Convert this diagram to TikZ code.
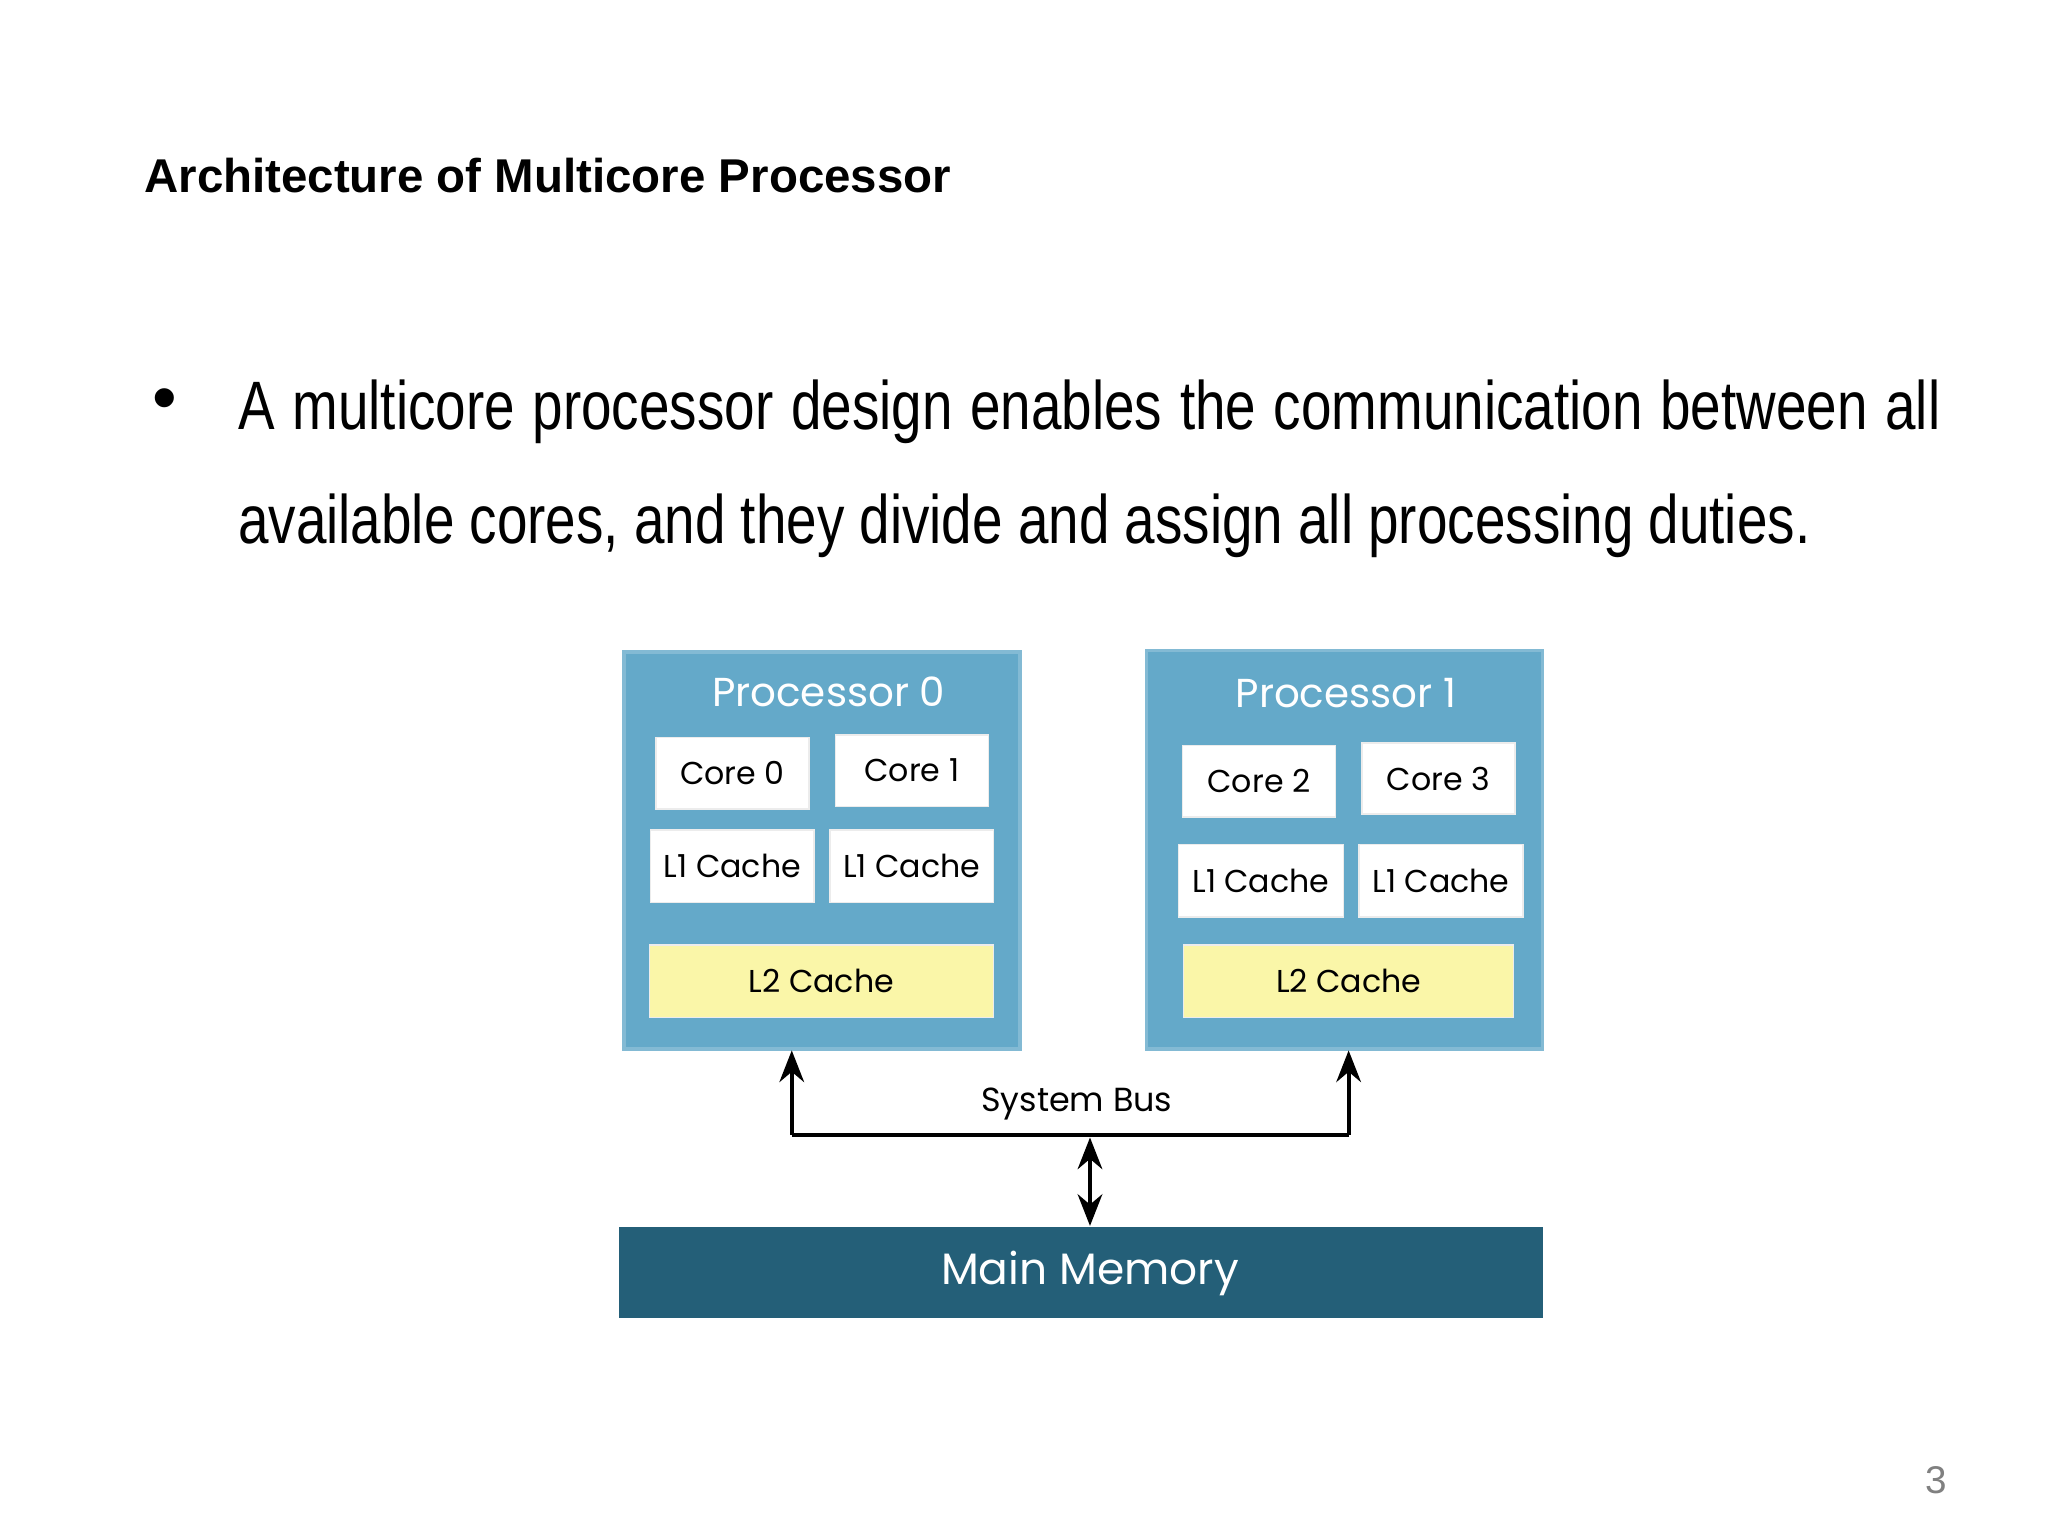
\documentclass[tikz,border=0pt]{standalone}
\usepackage{fontspec}
\setmainfont{Liberation Sans}
\newfontfamily\narrowfont{Liberation Sans}[FakeStretch=0.8]
\newfontfamily\diagfont{Poppins}
\usetikzlibrary{positioning,arrows.meta}
\definecolor{procblue}{RGB}{100,169,201}
\definecolor{cacheyellow}{RGB}{250,246,168}
\definecolor{memblue}{RGB}{36,95,120}
\tikzset{
  arrow/.style={-{Stealth[length=9pt,width=7pt]}, line width=1.2pt},
  dblarrow/.style={{Stealth[length=9pt,width=7pt]}-{Stealth[length=9pt,width=7pt]}, line width=1.2pt},
  proc/.style={draw=procblue!80!white, fill=procblue, line width=1pt},
  unit/.style={draw=white!85!gray, fill=white, font=\diagfont\fontsize{9}{11}\selectfont},
  ltwo/.style={draw=white!85!gray, fill=cacheyellow, font=\diagfont\fontsize{9}{11}\selectfont},
  ptitle/.style={text=white, font=\diagfont\fontsize{11.5}{14}\selectfont}
}
\begin{document}
\begin{tikzpicture}[x=0.0132cm,y=-0.0132cm]
\useasboundingbox (0,0) rectangle (1552,1164);

% Heading and text
\node[anchor=west, font=\bfseries\fontsize{13.5}{16}\selectfont] (title) at (100,133) {Architecture of Multicore Processor};
\node[font=\fontsize{20}{24}\selectfont] (bullet) at (125,307) {\textbullet};
\node[anchor=north west, inner sep=0pt, text width=1290*0.0132cm, align=justify,
  font=\narrowfont\fontsize{19.5}{32.5}\selectfont] (body) at (180,287)
  {\hyphenpenalty=10000 A multicore processor design enables the communication between all\linebreak available cores, and they divide and assign all processing duties.};

% Processor 0
\filldraw[proc] (473,494) rectangle (773,795);
\node[ptitle] (p0) at (628,524) {Processor 0};
\draw[unit] (497,559) rectangle node (c0) {Core 0} (613,613);
\draw[unit] (633,557) rectangle node (c1) {Core 1} (749,611);
\draw[unit] (493,629) rectangle node (l10) {L1 Cache} (617,684);
\draw[unit] (629,629) rectangle node (l11) {L1 Cache} (753,684);
\draw[ltwo] (492,716) rectangle node (l20) {L2 Cache} (753,771);

% Processor 1
\filldraw[proc] (869,493) rectangle (1169,795);
\node[ptitle] (p1) at (1020,525) {Processor 1};
\draw[unit] (896,565) rectangle node (c2) {Core 2} (1012,619);
\draw[unit] (1032,563) rectangle node (c3) {Core 3} (1148,617);
\draw[unit] (893,640) rectangle node (l12) {L1 Cache} (1018,695);
\draw[unit] (1030,640) rectangle node (l13) {L1 Cache} (1154,695);
\draw[ltwo] (897,716) rectangle node (l21) {L2 Cache} (1147,771);

% System bus
\coordinate (busl) at (600,860);
\coordinate (busr) at (1022,860);
\coordinate (busm) at (826,862);
\coordinate (p0b) at (600,796);
\coordinate (p1b) at (1022,796);
\draw[line width=1.2pt] (busl) -- (busr);
\draw[arrow] (busl) -- (p0b);
\draw[arrow] (busr) -- (p1b);
\node[font=\diagfont\fontsize{9.5}{12}\selectfont] (bus) at (816,837) {System Bus};

% Main memory
\fill[memblue] (469,930) rectangle (1169,999);
\node[text=white, font=\diagfont\fontsize{12.5}{15}\selectfont] (mem) at (826,965) {Main Memory};
\coordinate (memt) at (826,929);
\draw[dblarrow] (busm) -- (memt);

% Page number
\node[text=gray, font=\fontsize{11}{13}\selectfont] (page) at (1467,1122) {3};
\end{tikzpicture}
\end{document}
